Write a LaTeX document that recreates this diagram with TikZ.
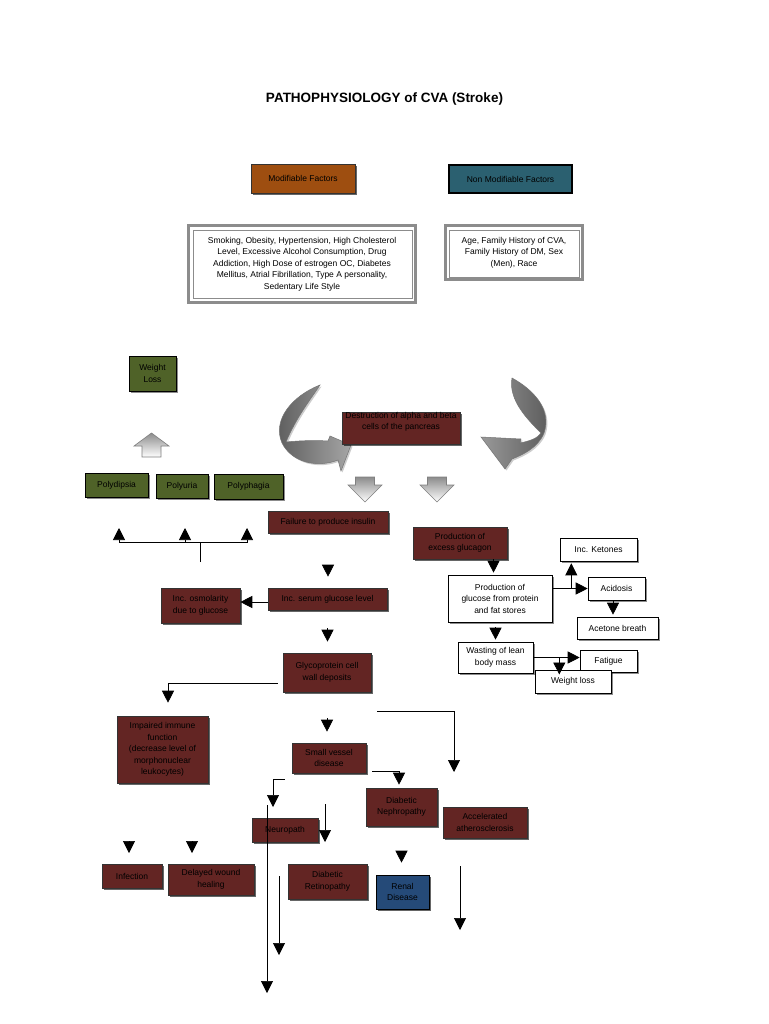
\documentclass[tikz,border=0pt]{standalone}
\usepackage{fontspec}
\setmainfont{Liberation Sans}
\usetikzlibrary{arrows.meta,shadows,calc}
\definecolor{maroon}{HTML}{632523}
\definecolor{olivegreen}{HTML}{4F6228}
\definecolor{modorange}{HTML}{9E4E10}
\definecolor{tealbox}{HTML}{2B6070}
\definecolor{renalblue}{HTML}{254A78}
\tikzset{
  base/.style={rectangle, inner sep=1pt, align=center, font=\fontsize{8.5}{11.5}\selectfont, text=black},
  mbox/.style={base, fill=maroon, draw=black!80, line width=0.6pt,
    drop shadow={shadow xshift=1.8pt, shadow yshift=-1.8pt, fill=black, opacity=0.6}},
  gbox/.style={base, fill=olivegreen, draw=black, line width=0.6pt,
    drop shadow={shadow xshift=1.8pt, shadow yshift=-1.8pt, fill=black, opacity=0.45}},
  wbox/.style={base, fill=white, draw=black, line width=0.6pt,
    drop shadow={shadow xshift=1.8pt, shadow yshift=-1.8pt, fill=black, opacity=0.45}},
  bbox/.style={base, fill=renalblue, draw=black, line width=0.6pt,
    drop shadow={shadow xshift=1.8pt, shadow yshift=-1.8pt, fill=black, opacity=0.6}},
  obox/.style={base, fill=modorange, draw=black!80, line width=0.6pt,
    drop shadow={shadow xshift=2pt, shadow yshift=-2pt, fill=black, opacity=0.6}},
  tbox/.style={base, fill=tealbox, draw=black, line width=2.2pt},
  dbl/.style={base, fill=white, draw=black!45, line width=3pt},
  tri/.style={-{Triangle[width=12pt,length=12pt]}, line width=0.7pt, black},
  conn/.style={line width=0.7pt, black},
  blockarrow/.style={top color=black!45, bottom color=white, draw=black!50, line width=0.6pt},
  curvearrow/.style={left color=black!65, right color=black!35, draw=black!55, line width=0.5pt,
    drop shadow={shadow xshift=1.5pt, shadow yshift=-1.5pt, fill=black, opacity=0.2}},
}
\newcommand\bx[7]{\node[#2, minimum width={(#5)-(#3)}, minimum height={(#6)-(#4)}] (#1) at ({((#3)+(#5))/2},{((#4)+(#6))/2}) {#7};}
\begin{document}
\begin{tikzpicture}[x=1pt,y=-1pt]
\useasboundingbox (0,0) rectangle (768,1024);
\fill[white] (0,0) rectangle (768,1024);

% title
\node[font=\bfseries\fontsize{13.5}{16}\selectfont] (title) at (384.5,99) {PATHOPHYSIOLOGY of CVA (Stroke)};

% factor headers
\bx{modf}{obox}{251}{164}{355}{193}{Modifiable Factors}
\bx{nonmodf}{tbox}{449}{165}{572}{193}{Non Modifiable Factors}

% factor lists
\bx{mlist}{dbl}{188.5}{225.5}{415.5}{302.5}{Smoking, Obesity, Hypertension, High Cholesterol\\Level, Excessive Alcohol Consumption, Drug\\Addiction, High Dose of estrogen OC, Diabetes\\Mellitus, Atrial Fibrillation, Type A personality,\\Sedentary Life Style}
\draw[black!45, line width=0.6pt] (193,230) rectangle (412,298);
\bx{nlist}{dbl}{445.5}{225.5}{582.5}{279.5}{Age, Family History of CVA,\\Family History of DM, Sex\\(Men), Race}
\draw[black!45, line width=0.6pt] (449,230) rectangle (579,277);

% curved arrows
\path[curvearrow] (320,385) .. controls (292,396) and (272,420) .. (282,443)
  .. controls (292,463) and (318,468) .. (338,460)
  -- (341,471) -- (351,445) -- (330,436) -- (328,441)
  .. controls (312,440) and (296,441) .. (286,442)
  .. controls (296,418) and (310,400) .. (320,385) -- cycle;
\path[curvearrow, left color=black!40, right color=black!65] (512,378) .. controls (534,390) and (552,410) .. (544,433)
  .. controls (538,448) and (522,455) .. (512,459)
  -- (505,469) -- (481,437) -- (521,439) -- (520,443)
  .. controls (530,441) and (538,438) .. (541,433)
  .. controls (528,420) and (508,400) .. (512,378) -- cycle;

% block arrows
\path[blockarrow] (142,457) -- (142,446) -- (134,446) -- (151.5,433) -- (169,446) -- (161,446) -- (161,457) -- cycle;
\path[blockarrow] (355.5,477) -- (374.5,477) -- (374.5,485) -- (382,485) -- (365,502) -- (348,485) -- (355.5,485) -- cycle;
\path[blockarrow] (427.5,477) -- (446.5,477) -- (446.5,485) -- (454,485) -- (437,502) -- (420,485) -- (427.5,485) -- cycle;

% green boxes
\bx{wl}{gbox}{129}{356}{176}{391}{Weight\\Loss}
\bx{polyd}{gbox}{85}{473}{148}{497}{Polydipsia}
\bx{polyu}{gbox}{156}{474}{208}{498}{Polyuria}
\bx{polyp}{gbox}{214}{474}{283}{499}{Polyphagia}

% maroon boxes
\bx{destr}{mbox}{342}{412}{460}{444}{}
\node[base, anchor=north] (destrt) at (401,411) {Destruction of alpha and beta\\cells of the pancreas};
\bx{failure}{mbox}{268}{511}{388}{533}{Failure to produce insulin}
\bx{glucagon}{mbox}{413}{527}{507}{559}{Production of\\excess glucagon}
\bx{serum}{mbox}{268}{588}{387}{610}{Inc. serum glucose level}
\bx{osmo}{mbox}{161}{588}{240}{623}{Inc. osmolarity\\due to glucose}
\bx{glyco}{mbox}{283}{653}{371}{692}{Glycoprotein cell\\wall deposits}
\bx{impaired}{mbox}{117}{716}{208}{783}{Impaired immune\\function\\(decrease level of\\morphonuclear\\leukocytes)}
\bx{small}{mbox}{292}{743}{366}{773}{Small vessel\\disease}
\bx{neph}{mbox}{366}{788}{437}{826}{Diabetic\\Nephropathy}
\bx{accel}{mbox}{443}{807}{527}{838}{Accelerated\\atherosclerosis}
\bx{neuro}{mbox}{252}{818}{318}{842}{Neuropath}
\bx{infect}{mbox}{102}{864}{162}{888}{Infection}
\bx{delayed}{mbox}{168}{864}{254}{895}{Delayed wound\\healing}
\bx{retino}{mbox}{288}{864}{367}{899}{Diabetic\\Retinopathy}
\bx{renal}{bbox}{376}{875}{429}{909}{Renal\\Disease}

% white boxes
\bx{glucose}{wbox}{448}{575}{552}{622}{Production of\\glucose from protein\\and fat stores}
\bx{ketones}{wbox}{560}{538}{637}{561}{Inc. Ketones}
\bx{acidosis}{wbox}{588}{577}{645}{600}{Acidosis}
\bx{acetone}{wbox}{577}{617}{658}{639}{Acetone breath}
\bx{wasting}{wbox}{458}{642}{533}{673}{Wasting of lean\\body mass}
\bx{fatigue}{wbox}{580}{650}{637}{672}{Fatigue}
\bx{wloss}{wbox}{535}{670}{611}{693}{Weight loss}

% free coordinates
\coordinate (hub) at (200,542);
\coordinate (hubs) at (200,562);
\coordinate (t1) at (119,528);
\coordinate (t2) at (185,528);
\coordinate (t3) at (247,528);
\coordinate (accend) at (454,772);
\coordinate (neuroend) at (273,807);
\coordinate (l1s) at (267,805);
\coordinate (l1e) at (267,993);
\coordinate (l2s) at (325,804);
\coordinate (l2e) at (325,842);
\coordinate (l3s) at (460,866);
\coordinate (l3e) at (460,930);
\coordinate (l4s) at (279,876);
\coordinate (l4e) at (279,955);
\coordinate (i1s) at (129,841);
\coordinate (i1e) at (129,853);
\coordinate (i2s) at (192,841);
\coordinate (i2e) at (192,853);

% connectors
\draw[conn] (hubs) -- (hub);
\draw[tri] (hub) -| (t1);
\draw[tri] (hub) -| (t2);
\draw[tri] (hub) -| (t3);
\draw[tri, shorten <=32pt, shorten >=11pt] (failure.south) -- (failure.south |- serum.north);
\draw[tri] ([yshift=-3pt]serum.west) -- ([yshift=-3pt]serum.west -| osmo.east);
\draw[tri, shorten <=18pt, shorten >=11pt] (serum.south) -- (serum.south |- glyco.north);
\draw[tri, shorten >=13pt] ([shift={(-5,-9)}]glyco.south west) -| ([xshift=5.5pt]impaired.north);
\draw[tri, shorten <=26pt, shorten >=11pt] (glyco.south) -- (glyco.south |- small.north);
\draw[tri] ([shift={(6,19)}]glyco.south east) -| (accend);
\draw[tri, shorten >=3pt] ([shift={(6,-2)}]small.south east) -| ([xshift=-2.5pt]neph.north);
\draw[tri] ([shift={(-7,6)}]small.south west) -| (neuroend);
\draw[tri] (l1s) -- (l1e);
\draw[tri] (l2s) -- (l2e);
\draw[tri, shorten <=26pt, shorten >=12pt] (neph.south) -- (neph.south |- renal.north);
\draw[tri] (l3s) -- (l3e);
\draw[tri] (l4s) -- (l4e);
\draw[tri] (i1s) -- (i1e);
\draw[tri] (i2s) -- (i2e);
\draw[tri, shorten >=2pt] ([xshift=33.5pt]glucagon.south) -- ([xshift=33.5pt]glucagon.south |- glucose.north);
\draw[tri] (glucose.east |- acidosis.west) -- (acidosis.west);
\draw[tri, shorten >=2pt] ([xshift=19pt]glucose.east |- acidosis.west) -- ([xshift=19pt]glucose.east |- ketones.south);
\draw[tri, shorten >=2pt] ([xshift=-3.5pt]acidosis.south) -- ([xshift=-3.5pt]acidosis.south |- acetone.north);
\draw[tri, shorten <=5pt, shorten >=2pt] (wasting.north |- glucose.south) -- (wasting.north);
\draw[tri] (wasting.east) -- (wasting.east -| fatigue.west);
\draw[tri] ([xshift=26pt]wasting.east) -- ([shift={(26,17)}]wasting.east);
\end{tikzpicture}
\end{document}
